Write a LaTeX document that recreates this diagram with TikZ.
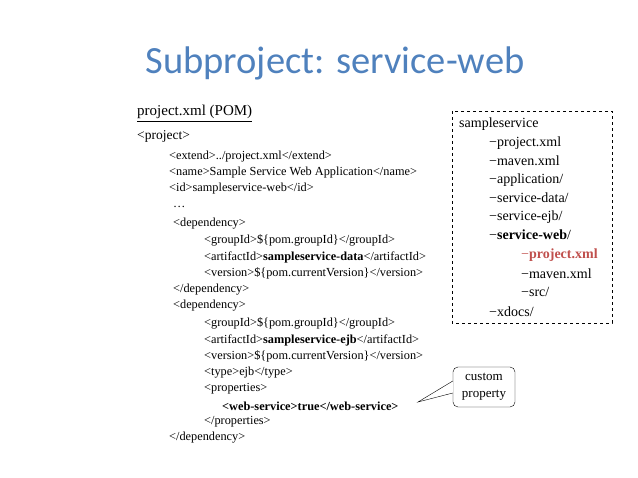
\documentclass[tikz,border=0pt]{standalone}
\usepackage{fontspec}
\setmainfont{Liberation Serif}
\newfontfamily\titlefont{Carlito}
\definecolor{ttl}{HTML}{4F81BD}
\definecolor{redx}{HTML}{C0504D}
\begin{document}
\begin{tikzpicture}[x=1pt,y=-1pt,
  code/.style={anchor=west,inner sep=0pt,font=\fontsize{12.3}{14}\selectfont},
  tree/.style={anchor=west,inner sep=0pt,font=\fontsize{14}{16}\selectfont}]
\useasboundingbox (0,0) rectangle (638,478);
\node[font=\titlefont\fontsize{38.5}{44}\selectfont,text=ttl] (title) at (335,63) {Subproject: service-web};
\node[anchor=west,inner sep=0pt,font=\fontsize{15}{17}\selectfont] (pom) at (137,112) {project.xml (POM)};
\draw[line width=0.6pt] ([yshift=-2pt]pom.south west) -- ([yshift=-2pt]pom.south east);
\node[code,font=\fontsize{13.5}{15}\selectfont] (l0) at (137,136) {<project>};
\node[code] (l1) at (169,157) {<extend>../project.xml</extend>};
\node[code] (l2) at (169,173) {<name>Sample Service Web Application</name>};
\node[code] (l3) at (169,189) {<id>sampleservice-web</id>};
\node[code] (l4) at (173,207) {\dots};
\node[code] (l5) at (173,224) {<dependency>};
\node[code] (l6) at (204,240) {<groupId>\$\{pom.groupId\}</groupId>};
\node[code] (l7) at (204,257) {<artifactId>\textbf{sampleservice-data}</artifactId>};
\node[code] (l8) at (204,273) {<version>\$\{pom.currentVersion\}</version>};
\node[code] (l9) at (173,290) {</dependency>};
\node[code] (l10) at (173,306) {<dependency>};
\node[code] (l11) at (204,323) {<groupId>\$\{pom.groupId\}</groupId>};
\node[code] (l12) at (204,340) {<artifactId>\textbf{sampleservice-ejb}</artifactId>};
\node[code] (l13) at (204,356) {<version>\$\{pom.currentVersion\}</version>};
\node[code] (l14) at (204,373) {<type>ejb</type>};
\node[code] (l15) at (204,389) {<properties>};
\node[code] (l16) at (222,406) {\textbf{<web-service>true</web-service>}};
\node[code] (l17) at (204,422) {</properties>};
\node[code] (l18) at (169,438) {</dependency>};
% tree box
\draw[dashed,thick] (452,111) rectangle (612,323);
\node[tree] (t0) at (459,124) {sampleservice};
\node[tree] (t1) at (489,143) {\textminus project.xml};
\node[tree] (t2) at (489,161) {\textminus maven.xml};
\node[tree] (t3) at (489,180) {\textminus application/};
\node[tree] (t4) at (489,198) {\textminus service-data/};
\node[tree] (t5) at (489,217) {\textminus service-ejb/};
\node[tree] (t6) at (489,235) {\textminus\textbf{service-web}/};
\node[tree,text=redx] (t7) at (521,255) {\textminus\textbf{project.xml}};
\node[tree] (t8) at (521,274) {\textminus maven.xml};
\node[tree] (t9) at (521,292) {\textminus src/};
\node[tree] (t10) at (489,312) {\textminus xdocs/};
% callout
\node[draw,rounded corners=5pt,align=center,minimum width=62pt,minimum height=40pt,inner sep=1pt,font=\fontsize{13}{17}\selectfont] (call) at (484,387) {custom\\property};
\coordinate (tip) at (418,402);
\fill[white] ([yshift=-6pt]call.west) -- (tip) -- ([yshift=6pt]call.west) -- cycle;
\draw ([yshift=-6pt]call.west) -- (tip) -- ([yshift=6pt]call.west);
\end{tikzpicture}
\end{document}
